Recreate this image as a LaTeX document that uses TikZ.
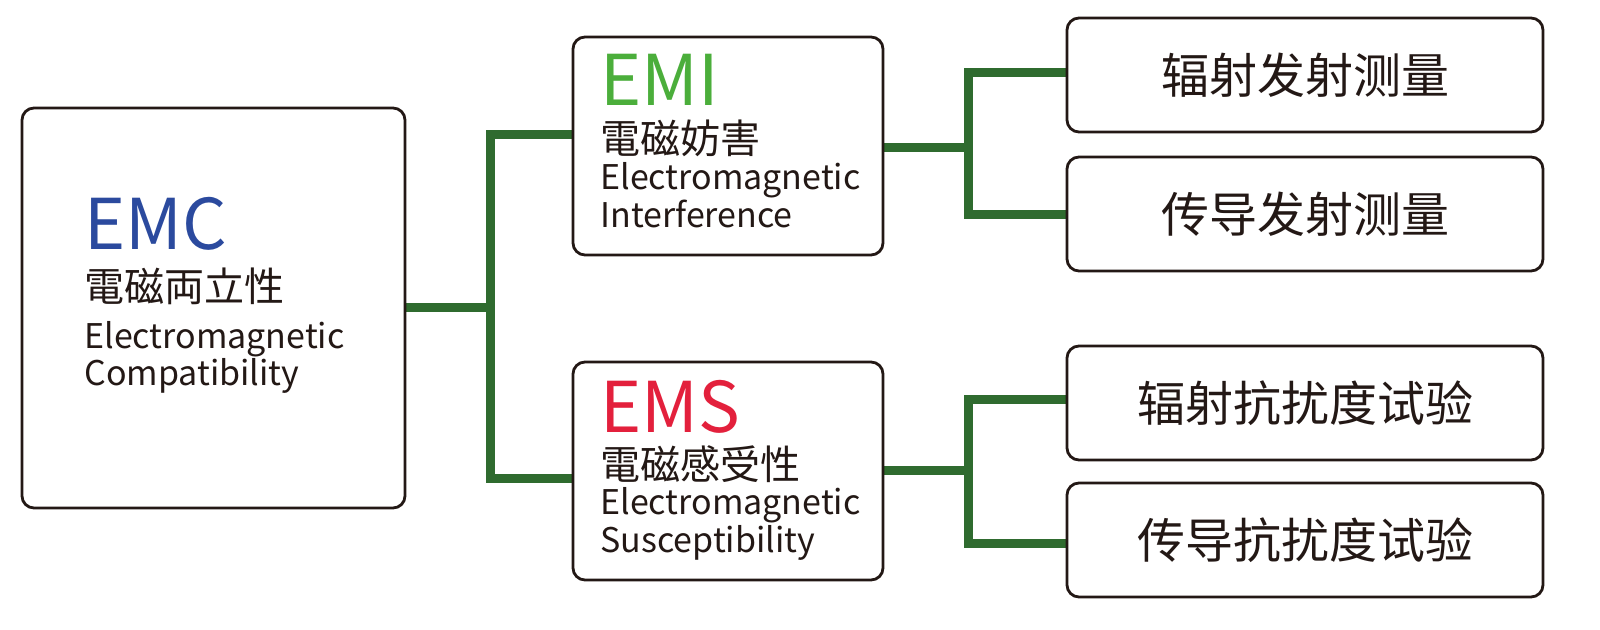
\documentclass[tikz,border=0pt]{standalone}
\usepackage{fontspec}
\setmainfont{Noto Sans CJK JP}
\newfontfamily\cn{Noto Sans CJK SC}
\definecolor{lg}{HTML}{2F6B2F}
\definecolor{cb}{HTML}{2B4A9E}
\definecolor{cg}{HTML}{4BAE3B}
\definecolor{cr}{HTML}{E3203C}
\definecolor{tx}{HTML}{231815}
\tikzset{box/.style={draw=tx,line width=1.4pt,rounded corners=6pt,fill=white},
 ln/.style={draw=lg,line width=4.5pt},
 big/.style={anchor=base west,inner sep=0,font=\fontsize{35}{35}\selectfont},
 jp/.style={anchor=base west,inner sep=0,font=\fontsize{20}{20}\selectfont,text=tx},
 en/.style={anchor=base west,inner sep=0,align=left,font=\fontsize{17}{16}\selectfont,text=tx},
 rt/.style={font=\cn\fontsize{24}{24}\selectfont,text=tx}}
\begin{document}
\begin{tikzpicture}[x=0.5pt,y=-0.5pt]
\useasboundingbox (0,0) rectangle (1600,630);
% connectors
\coordinate (j1) at (490,308);
\draw[ln] (405,308) -- (j1);
\draw[ln] (573,135) -- (490,135) -- (490,478) -- (573,478);
\draw[ln] (883,148) -- (968,148);
\draw[ln] (1067,73) -- (968,73) -- (968,215) -- (1067,215);
\draw[ln] (883,470) -- (968,470);
\draw[ln] (1067,400) -- (968,400) -- (968,543) -- (1067,543);
% boxes
\draw[box] (22,108) rectangle (405,508);
\draw[box] (573,37) rectangle (883,255);
\draw[box] (573,362) rectangle (883,580);
\foreach \a/\b/\t [count=\i] in {18/132/辐射发射测量,157/271/传导发射测量,346/460/辐射抗扰度试验,483/597/传导抗扰度试验}{
 \draw[box] (1067,\a) rectangle (1543,\b);
 \node[rt] (r\i) at (1305,{(\a+\b)/2}) {\t};
}
% texts
\node[big,text=cb] (emc) at (84,250) {EMC};
\node[jp] (emcj) at (84,302) {電磁両立性};
\node[en] (emce) at (84,386) {Electromagnetic\\Compatibility};
\node[big,text=cg] (emi) at (600,106) {EMI};
\node[jp] (emij) at (600,154) {電磁妨害};
\node[en] (emie) at (600,228) {Electromagnetic\\Interference};
\node[big,text=cr] (ems) at (600,432) {EMS};
\node[jp] (emsj) at (600,480) {電磁感受性};
\node[en] (emse) at (600,552) {Electromagnetic\\Susceptibility};
\end{tikzpicture}
\end{document}
